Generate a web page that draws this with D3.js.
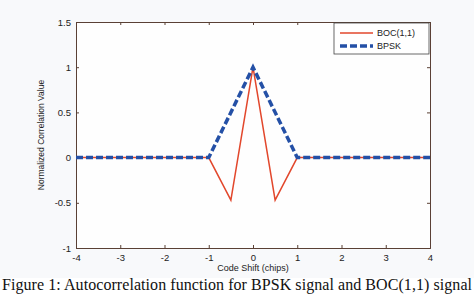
<!DOCTYPE html>
<meta charset="utf-8">
<script src="https://d3js.org/d3.v7.min.js"></script>
<style>
body { margin: 0; background: #ffffff; }
.tick text { font: 9.5px "Liberation Sans", Arial, sans-serif; fill: #222; }
.axis path, .axis line { stroke: #5a4035; }
.lbl { font: 9px "Liberation Sans", Arial, sans-serif; fill: #222; }
.caption { font: 16px "Liberation Serif", "Times New Roman", serif; fill: #111; }
</style>
<body>
<script>

// shift in chips
var shiftX = [-4, -1, -0.5, 0, 0.5, 1, 4]
var rocVals = [0, 0, -0.47, 1, -0.47, 0, 0]
var bpskX = [-4, -1, 0, 1, 4]
var bpskVals = [0, 0, 1, 0, 0]
var xTicks = [-4, -3, -2, -1, 0, 1, 2, 3, 4]
var yTicks = [-1, -0.5, 0, 0.5, 1, 1.5]
var legendNames = ["BOC(1,1)", "BPSK"]

var margin = {top: 22, right: 44, bottom: 47, left: 76};
var W = 474, H = 295;
var width = W - margin.left - margin.right,
    height = H - margin.top - margin.bottom;

var svg = d3.select("body").append("svg")
  .attr("width", W)
  .attr("height", H);

svg.append("rect").attr("width", W).attr("height", 278).attr("fill", "#f8f9fb");

var g = svg.append("g")
  .attr("transform", "translate(" + margin.left + "," + margin.top + ")");

var x = d3.scaleLinear().domain([-4, 4]).range([0, width]);
var y = d3.scaleLinear().domain([-1, 1.5]).range([height, 0]);

g.append("rect").attr("width", width).attr("height", height).attr("fill", "#fefefe");

// box axes, matlab style ticks inside
g.append("g").attr("class", "axis")
  .attr("transform", "translate(0," + height + ")")
  .call(d3.axisBottom(x).tickValues(xTicks).tickSize(-3).tickPadding(6).tickFormat(String));
g.append("g").attr("class", "axis")
  .call(d3.axisTop(x).tickValues(xTicks).tickSize(-3).tickFormat(""));
g.append("g").attr("class", "axis")
  .call(d3.axisLeft(y).tickValues(yTicks).tickSize(-3).tickPadding(5).tickFormat(String));
g.append("g").attr("class", "axis")
  .attr("transform", "translate(" + width + ",0)")
  .call(d3.axisRight(y).tickValues(yTicks).tickSize(-3).tickFormat(""));

var line = d3.line()
  .x(function(d) { return x(d[0]); })
  .y(function(d) { return y(d[1]); });

var bpsk = d3.zip(bpskX, bpskVals);
var roc = d3.zip(shiftX, rocVals);

g.append("path")
  .attr("d", line(roc))
  .attr("fill", "none")
  .attr("stroke", "#e2472c")
  .attr("stroke-width", 1.5);

g.append("path")
  .attr("d", line(bpsk))
  .attr("fill", "none")
  .attr("stroke", "#2450a6")
  .attr("stroke-width", 3.5)
  .attr("stroke-dasharray", "7,3");

// legend
var leg = g.append("g").attr("transform", "translate(" + (width - 96) + ",1)");
leg.append("rect").attr("width", 95).attr("height", 31)
  .attr("fill", "#fff").attr("stroke", "#444").attr("stroke-width", 0.8);
leg.append("line").attr("x1", 6).attr("x2", 39).attr("y1", 10).attr("y2", 10)
  .attr("stroke", "#e2472c").attr("stroke-width", 1.5);
leg.append("line").attr("x1", 6).attr("x2", 39).attr("y1", 23).attr("y2", 23)
  .attr("stroke", "#2450a6").attr("stroke-width", 3.5).attr("stroke-dasharray", "7,3");
leg.selectAll("text.lbl").data(legendNames).enter().append("text")
  .attr("class", "lbl")
  .attr("x", 43)
  .attr("y", function(d, i) { return 13 + i * 13; })
  .text(function(d) { return d; });

// axis labels
g.append("text").attr("class", "lbl")
  .attr("x", width / 2).attr("y", height + 23)
  .attr("text-anchor", "middle")
  .text("Code Shift (chips)");
g.append("text").attr("class", "lbl")
  .attr("transform", "translate(" + (-32) + "," + (height / 2) + ") rotate(-90)")
  .attr("text-anchor", "middle")
  .style("font-size", "8.5px")
  .text("Normalized Correlation Value");

svg.append("text").attr("class", "caption")
  .attr("x", 2).attr("y", 290)
  .attr("textLength", 470)
  .text("Figure 1: Autocorrelation function for BPSK signal and BOC(1,1) signal");

</script>
</body>
